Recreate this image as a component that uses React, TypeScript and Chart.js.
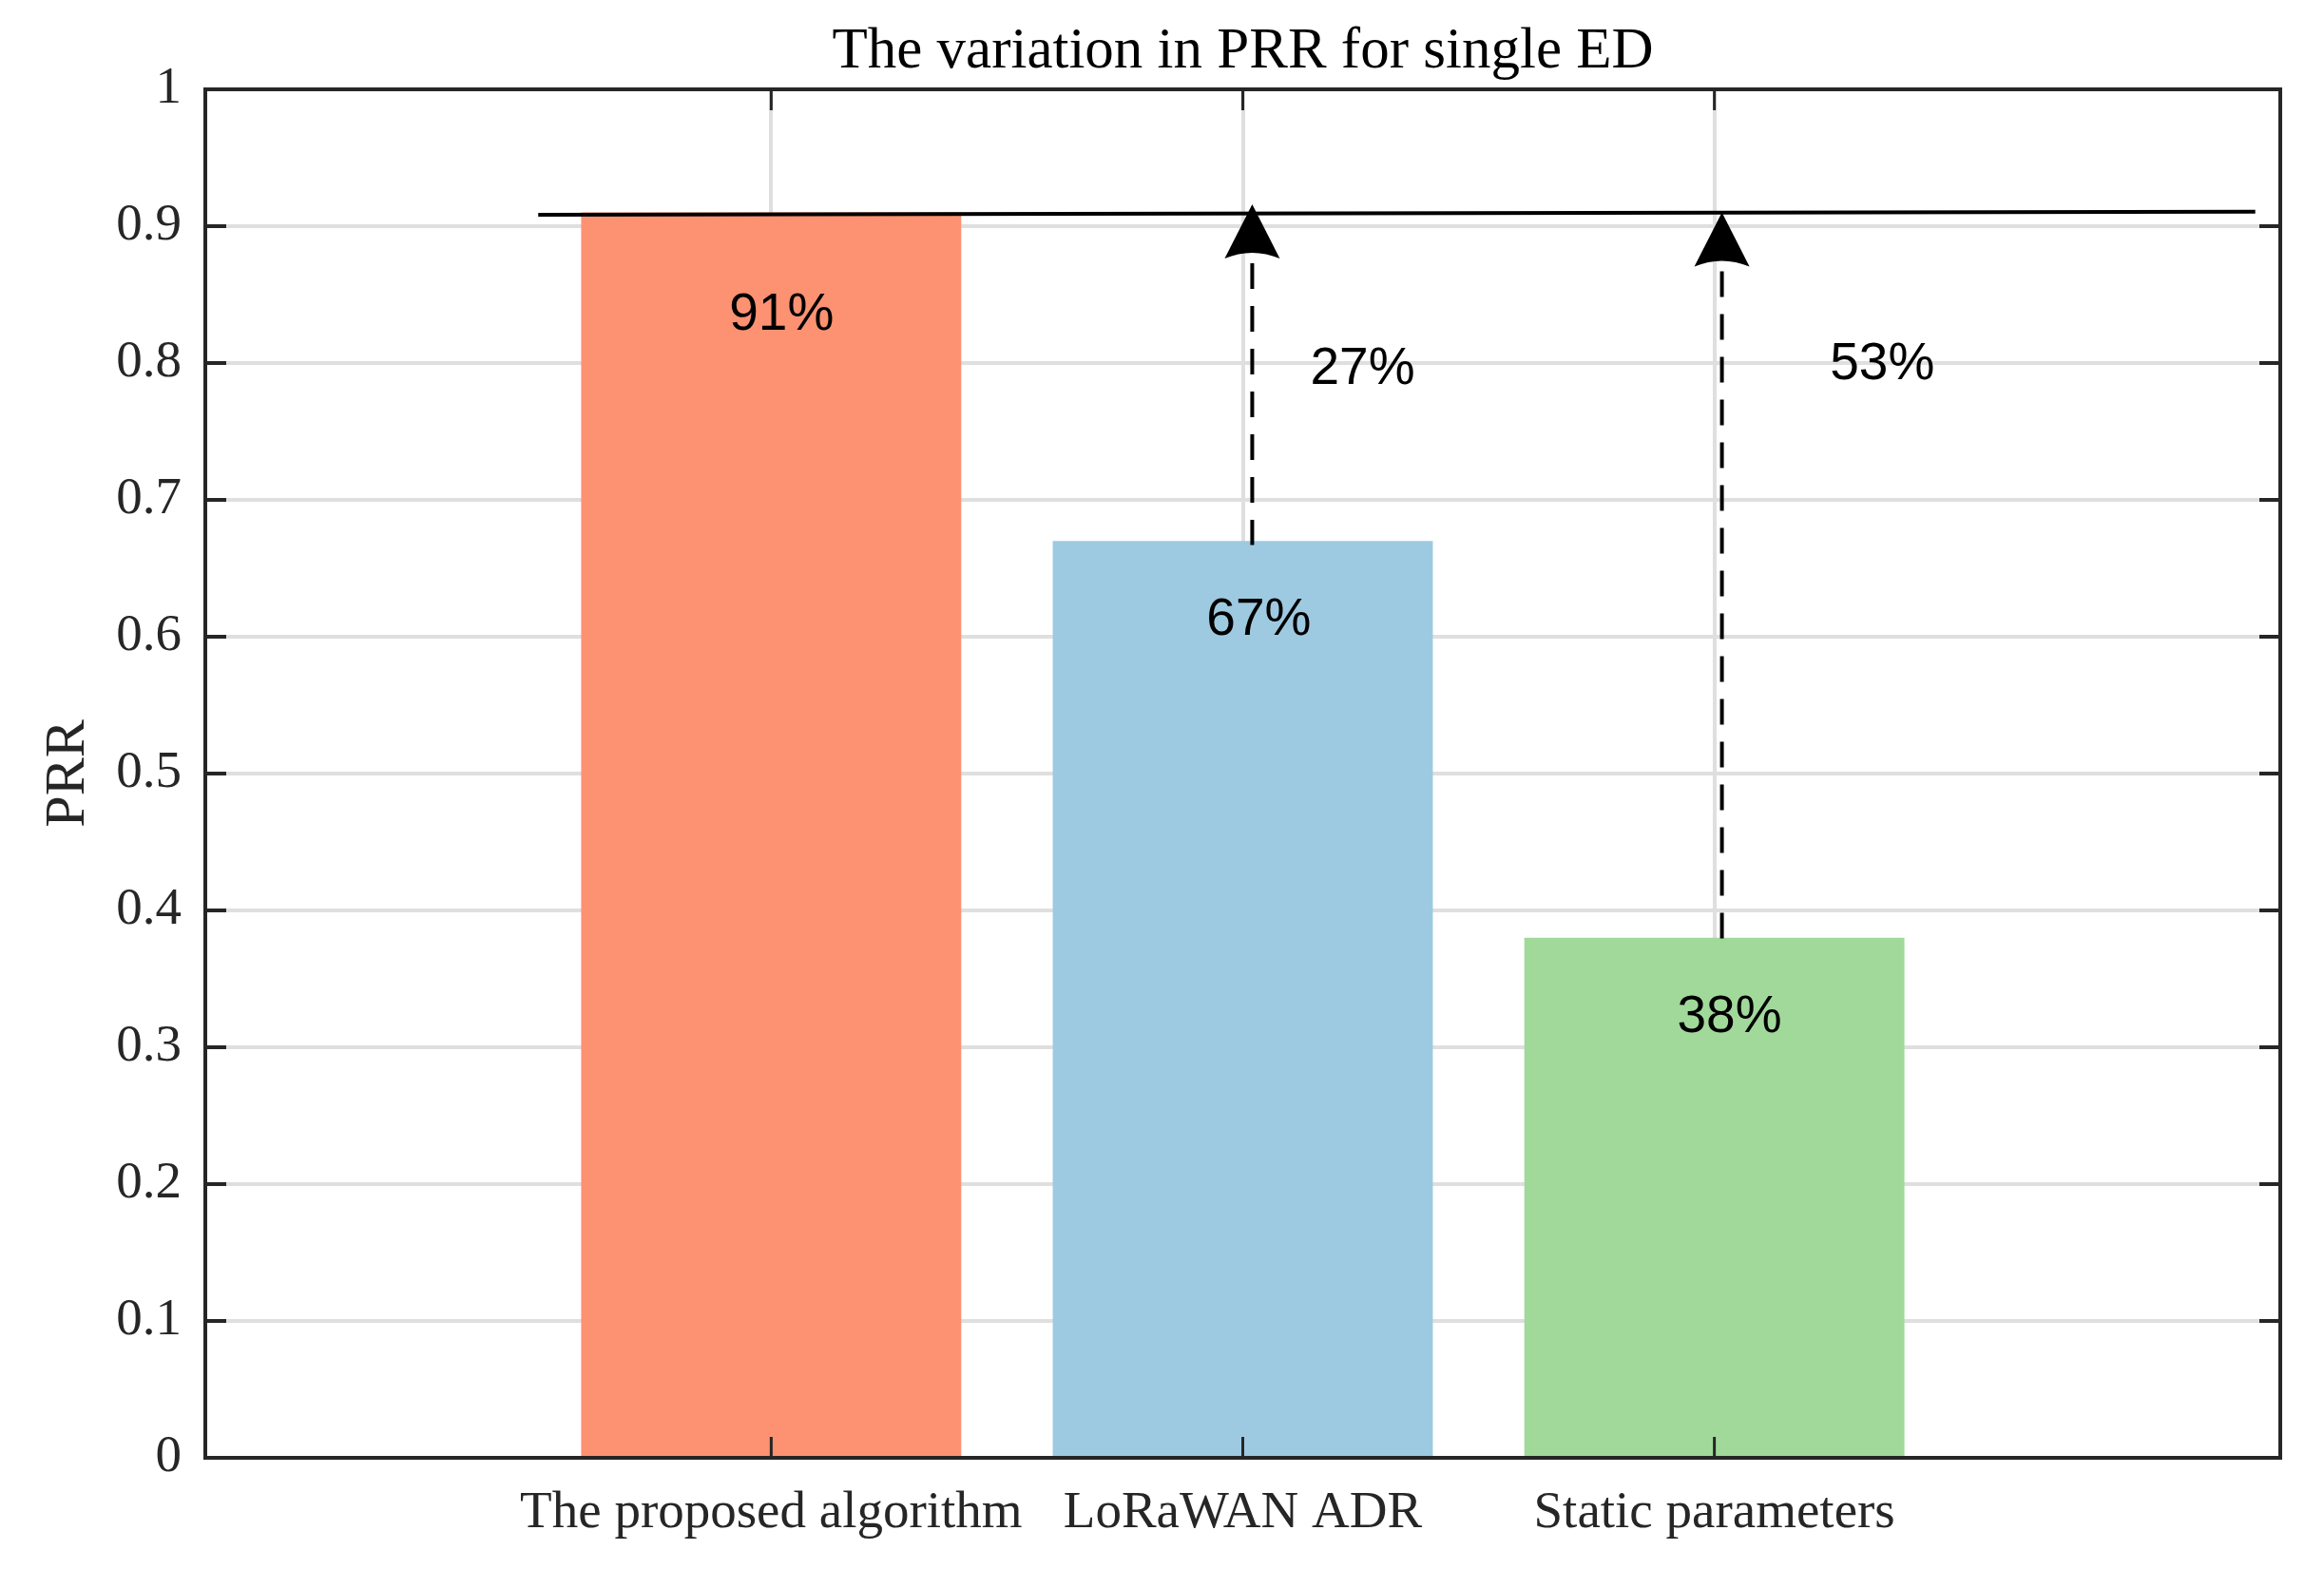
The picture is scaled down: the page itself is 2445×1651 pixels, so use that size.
import { useEffect, useRef } from 'react'
import { Chart, registerables } from 'chart.js'

Chart.register(...registerables)

// data
const categories = ['The proposed algorithm', 'LoRaWAN ADR', 'Static parameters']
const categoryX = [1, 2, 3]
const prr = [0.91, 0.67, 0.38]
const barColors = ['#fc9272', '#9ecae1', '#a1d99b']
const yTicks = [0, 0.1, 0.2, 0.3, 0.4, 0.5, 0.6, 0.7, 0.8, 0.9, 1]

// reference line at the top bar level
const refLineX = [0.506, 4.147]
const refLineY = [0.9083, 0.9106]

// dashed arrows: bar top -> reference level
const arrowX = [2.02, 3.016]
const arrowFrom = [0.667, 0.373]
const arrowTip = [0.916, 0.91]

// percent annotations
const labelText = ['91%', '67%', '38%', '27%', '53%']
const labelX = [1.022, 2.034, 3.032, 2.254, 3.356]
const labelY = [0.835, 0.612, 0.3215, 0.795, 0.799]

const SERIF = '"Liberation Serif", "Times New Roman", serif'
const SANS = '"Liberation Sans", Arial, sans-serif'
const AXIS = '#262626'
const GRID = '#dfdfdf'

const matlabBox = {
  id: 'matlabBox',
  afterDatasetsDraw(chart: Chart) {
    const { ctx, chartArea: a } = chart
    const x = chart.scales.x
    const y = chart.scales.y
    ctx.save()

    // arrows
    arrowX.forEach((v, i) => {
      const px = x.getPixelForValue(v)
      const tip = y.getPixelForValue(arrowTip[i])
      const from = y.getPixelForValue(arrowFrom[i])
      ctx.strokeStyle = '#000'
      ctx.lineWidth = 4
      ctx.setLineDash([27, 18])
      ctx.beginPath()
      ctx.moveTo(px, tip + 62)
      ctx.lineTo(px, from)
      ctx.stroke()
      ctx.setLineDash([])
      ctx.fillStyle = '#000'
      ctx.beginPath()
      ctx.moveTo(px, tip)
      ctx.lineTo(px + 29, tip + 57)
      ctx.quadraticCurveTo(px, tip + 45, px - 29, tip + 57)
      ctx.closePath()
      ctx.fill()
    })

    // percent labels
    ctx.fillStyle = '#000'
    ctx.font = `55px ${SANS}`
    ctx.textAlign = 'center'
    ctx.textBaseline = 'middle'
    labelText.forEach((t, i) => {
      ctx.fillText(t, x.getPixelForValue(labelX[i]), y.getPixelForValue(labelY[i]))
    })

    // box and inward ticks
    ctx.strokeStyle = AXIS
    ctx.lineWidth = 4
    ctx.beginPath()
    ctx.moveTo(a.left, a.top)
    ctx.lineTo(a.right, a.top)
    ctx.lineTo(a.right, a.bottom)
    ctx.stroke()
    ctx.beginPath()
    yTicks.forEach(v => {
      const py = y.getPixelForValue(v)
      ctx.moveTo(a.left, py); ctx.lineTo(a.left + 22, py)
      ctx.moveTo(a.right, py); ctx.lineTo(a.right - 22, py)
    })
    ctx.stroke()
    ctx.lineWidth = 3
    ctx.beginPath()
    categoryX.forEach(v => {
      const px = x.getPixelForValue(v)
      ctx.moveTo(px, a.bottom); ctx.lineTo(px, a.bottom - 22)
      ctx.moveTo(px, a.top); ctx.lineTo(px, a.top + 22)
    })
    ctx.stroke()

    // title
    ctx.fillStyle = '#000'
    ctx.font = `61px ${SERIF}`
    ctx.textAlign = 'center'
    ctx.textBaseline = 'alphabetic'
    ctx.fillText('The variation in PRR for single ED', (a.left + a.right) / 2, 71)
    ctx.restore()
  },
}

export default function App() {
  const ref = useRef<HTMLCanvasElement>(null)

  useEffect(() => {
    if (!ref.current) return
    const chart = new Chart(ref.current, {
      type: 'bar',
      data: {
        datasets: [
          {
            type: 'line',
            data: refLineX.map((v, i) => ({ x: v, y: refLineY[i] })),
            borderColor: '#000',
            borderWidth: 4,
            pointRadius: 0,
            order: 0,
          },
          {
            type: 'bar',
            data: categoryX.map((v, i) => ({ x: v, y: prr[i] })),
            backgroundColor: barColors,
            borderWidth: 0,
            barPercentage: 0.806,
            categoryPercentage: 1,
            order: 1,
          },
        ] as any,
      },
      options: {
        animation: false,
        responsive: true,
        maintainAspectRatio: false,
        layout: { padding: { top: 94, right: 46, left: 0, bottom: 0 } },
        plugins: {
          legend: { display: false },
          tooltip: { enabled: false },
          title: { display: false },
        },
        scales: {
          x: {
            type: 'linear',
            min: -0.2,
            max: 4.2,
            offset: false,
            afterBuildTicks: (s: any) => { s.ticks = categoryX.map(v => ({ value: v })) },
            afterFit: (s: any) => { s.height = 117 },
            grid: { color: GRID, lineWidth: 4, drawTicks: false, offset: false },
            border: { display: true, color: AXIS, width: 4 },
            ticks: {
              color: AXIS,
              padding: 26,
              maxRotation: 0,
              autoSkip: false,
              font: { family: SERIF, size: 55 },
              callback: (v: any) => {
                const i = categoryX.indexOf(Number(v))
                return i >= 0 ? categories[i] : ''
              },
            },
          },
          y: {
            type: 'linear',
            min: 0,
            max: 1,
            afterBuildTicks: (s: any) => { s.ticks = yTicks.map(v => ({ value: v })) },
            afterFit: (s: any) => { s.width = 216 },
            grid: { color: GRID, lineWidth: 4, drawTicks: false },
            border: { display: true, color: AXIS, width: 4 },
            ticks: {
              color: AXIS,
              padding: 25,
              font: { family: SERIF, size: 55 },
              callback: (v: any) => String(Math.round(Number(v) * 10) / 10),
            },
            title: {
              display: true,
              text: 'PRR',
              color: AXIS,
              font: { family: SERIF, size: 60 },
              padding: { top: 36, bottom: 0 },
            },
          },
        },
      },
      plugins: [matlabBox],
    })
    return () => chart.destroy()
  }, [])

  return (
    <div style={{ position: 'fixed', left: 0, top: 0, width: 2445, height: 1651, background: '#fff' }}>
      <canvas ref={ref} role="img" aria-label="Bar chart of PRR for single ED" />
    </div>
  )
}
